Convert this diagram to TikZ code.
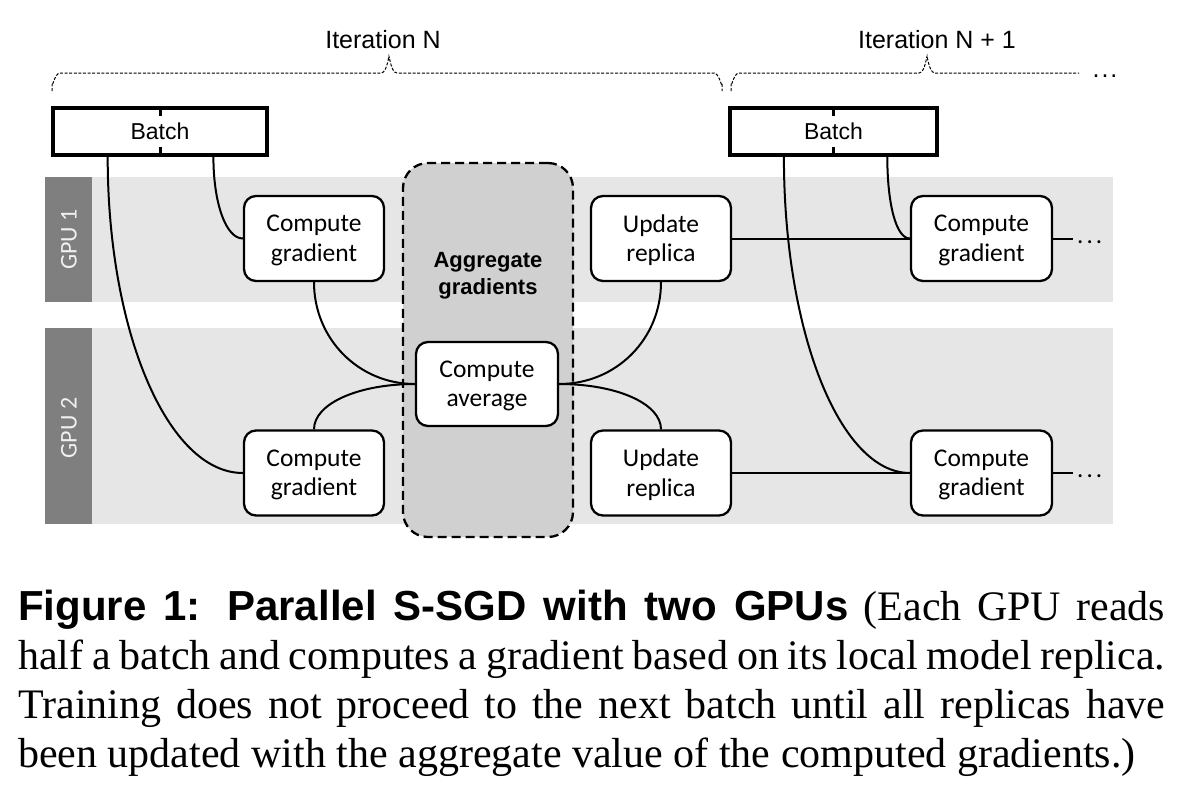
\documentclass[tikz,border=0pt]{standalone}
\usepackage{fontspec}
\setmainfont{Liberation Serif}
\newfontfamily\arial{Liberation Sans}
\newfontfamily\calib{Carlito}
\usetikzlibrary{calc}
\definecolor{lanegray}{HTML}{E6E6E6}
\definecolor{labgray}{HTML}{7F7F7F}
\definecolor{agggray}{HTML}{D0D0D0}
\begin{document}
\begin{tikzpicture}[x=1pt,y=-1pt,
  proc/.style={draw, line width=2.3pt, rounded corners=12pt, fill=white,
    minimum width=140pt, minimum height=85pt, align=center, inner sep=0pt,
    font=\calib\fontsize{25.5}{29.5}\selectfont},
  batchbox/.style={draw, line width=4pt, fill=white, minimum width=214pt,
    minimum height=47pt, inner sep=0pt, font=\arial\fontsize{23}{27}\selectfont},
  conn/.style={line width=2pt},
  bracepath/.style={line width=1pt, dash pattern=on 3pt off 1.6pt},
  itlabel/.style={font=\arial\fontsize{25}{29}\selectfont, inner sep=0pt},
  gpulabel/.style={rotate=90, text=white!88!gray, font=\calib\fontsize{24}{28}\selectfont, inner sep=0pt},
  dots/.style={font=\calib\fontsize{25}{29}\selectfont, inner sep=0pt}
]
\useasboundingbox (0,0) rectangle (1200,809);
% lanes
\fill[lanegray] (45,177) rectangle (1113,302);
\fill[lanegray] (45,328) rectangle (1113,524);
\fill[labgray] (45,177) rectangle (92,302);
\fill[labgray] (45,328) rectangle (92,524);
\node[gpulabel] (gpu1) at (69,239.5) {GPU 1};
\node[gpulabel] (gpu2) at (69,428) {GPU 2};
% aggregate region
\node[draw, line width=2.3pt, dash pattern=on 9pt off 5pt, rounded corners=25pt,
  fill=agggray, minimum width=170pt, minimum height=374pt] (agg) at (488,350) {};
\node[align=center, font=\arial\bfseries\fontsize{22}{27}\selectfont] (agglab) at (488,276) {Aggregate\\gradients};
% iteration labels and braces
\node[itlabel] (itn) at (383,40) {Iteration N};
\node[itlabel] (itn1) at (937,40) {Iteration N + 1};
\draw[bracepath] (52,91) -- (52,84) to[out=-90,in=180] (60,73) -- (381,73) to[out=0,in=90] (389,58)
  to[out=90,in=180] (397,73) -- (714,73) to[out=0,in=-90] (722,84) -- (722,91);
\draw[bracepath] (731,91) -- (731,84) to[out=-90,in=180] (739,73) -- (919,73) to[out=0,in=90] (927,58)
  to[out=90,in=180] (935,73) -- (1079,73);
\node[itlabel, anchor=base] (topdots) at (1105,77) {.\kern2pt.\kern2pt.};
% batches
\node[batchbox] (b1) at (160,131.5) {Batch};
\node[batchbox, minimum width=207pt] (b2) at (833.5,131.5) {Batch};
\draw[line width=3pt] (b1.north) -- ++(0,10) (b1.south) -- ++(0,-10);
\draw[line width=3pt] (b2.north) -- ++(0,10) (b2.south) -- ++(0,-10);
\coordinate (b1l) at ($(b1.south west)!0.26!(b1.south east)$);
\coordinate (b1r) at ($(b1.south west)!0.745!(b1.south east)$);
\coordinate (b2l) at ($(b2.south west)!0.265!(b2.south east)$);
\coordinate (b2r) at ($(b2.south west)!0.755!(b2.south east)$);
% process nodes
\node[proc] (cg1) at (314,238.5) {\strut Compute\\gradient};
\node[proc] (cg2) at (314,473) {\strut Compute\\gradient};
\node[proc, minimum width=142pt, minimum height=84pt] (ca) at (487,384) {\strut Compute\\average};
\node[proc] (ur1) at (661,238.5) {\strut Update\\replica};
\node[proc] (ur2) at (661,473) {\strut Update\\replica};
\node[proc, minimum width=141pt] (cn1) at (981.5,238.5) {\strut Compute\\gradient};
\node[proc, minimum width=141pt] (cn2) at (981.5,473) {\strut Compute\\gradient};
\node[dots, anchor=base west] (d1) at (1077,243) {.\kern3pt.\kern3pt.};
\node[dots, anchor=base west] (d2) at (1077,477) {.\kern3pt.\kern3pt.};
% connectors
\draw[conn] (b1l) .. controls +(0,175) and +(-75,0) .. (cg2.west);
\draw[conn] (b1r) .. controls +(0,46) and +(-17,0) .. (cg1.west);
\draw[conn] (cg1.south) .. controls +(0,57) and +(-56,0) .. (ca.west);
\draw[conn] (cg2.north) .. controls +(0,-26) and +(-56,0) .. (ca.west);
\draw[conn] (ca.east) .. controls +(57,0) and +(0,57) .. (ur1.south);
\draw[conn] (ca.east) .. controls +(57,0) and +(0,-26) .. (ur2.north);
\draw[conn] (ur1.east) -- (cn1.west);
\draw[conn] (ur2.east) -- (cn2.west);
\draw[conn] (b2l) .. controls +(0,175) and +(-70,0) .. (cn2.west);
\draw[conn] (b2r) .. controls +(0,46) and +(-14,0) .. (cn1.west);
\draw[conn] (cn1.east) -- ++(20,0);
\draw[conn] (cn2.east) -- ++(20,0);
% caption
\node[anchor=north west, inner sep=0pt, text width=1147pt, align=justify,
  font=\fontsize{42}{49}\selectfont] (cap) at (18,590)
  {{\arial\bfseries Figure 1: Parallel S-SGD with two GPUs} (Each GPU reads\linebreak
  half a batch and computes a gradient based on its local model replica.\linebreak
  Training does not proceed to the next batch until all replicas have\linebreak
  been updated with the aggregate value of the computed gradients.)};
\end{tikzpicture}
\end{document}
